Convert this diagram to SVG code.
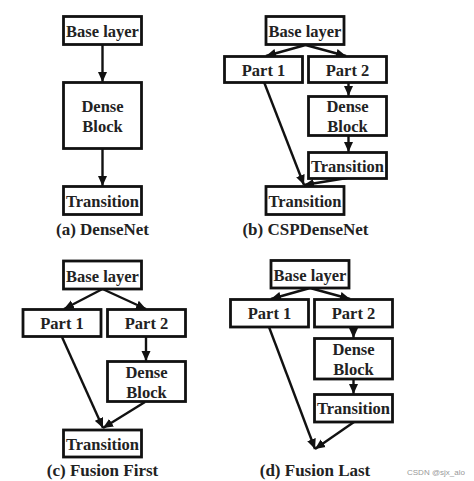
<svg xmlns="http://www.w3.org/2000/svg" width="474" height="481" viewBox="0 0 474 481">
<style>
.box{fill:#fff;stroke:#111;stroke-width:2.8}
.t{font-weight:bold;font-size:16.5px;fill:#222;text-anchor:middle}
.cap{font-weight:bold;font-size:17px;fill:#222;text-anchor:middle}
.e{fill:none;stroke:#111;stroke-width:2.4;marker-end:url(#ah)}
.wm{font-size:8px;fill:#999}
</style>
<defs>
<marker id="ah" markerUnits="userSpaceOnUse" markerWidth="10" markerHeight="10" viewBox="0 0 10 10" refX="10" refY="5" orient="auto">
<path d="M0,0.5 L10,5 L0,9.5 Z" fill="#111"/>
</marker>
</defs>
<rect width="474" height="481" fill="#fff"/>
<g id="connectors">
<line class="e" x1="102.5" y1="45" x2="102.5" y2="82"/>
<line class="e" x1="102.5" y1="149" x2="102.5" y2="186"/>
<line class="e" x1="305.5" y1="45" x2="266" y2="56"/>
<line class="e" x1="305.5" y1="45" x2="346" y2="56"/>
<line class="e" x1="348.5" y1="82" x2="348.5" y2="96"/>
<line class="e" x1="348.5" y1="136" x2="348.5" y2="152"/>
<line class="e" x1="264" y1="82" x2="304" y2="185"/>
<line class="e" x1="347" y1="178" x2="304" y2="185"/>
<line class="e" x1="102.5" y1="289" x2="64" y2="309"/>
<line class="e" x1="102.5" y1="289" x2="146" y2="309"/>
<line class="e" x1="146" y1="337" x2="146" y2="361"/>
<line class="e" x1="62" y1="337" x2="103" y2="428"/>
<line class="e" x1="145" y1="402" x2="103" y2="428"/>
<line class="e" x1="310" y1="288" x2="271" y2="299"/>
<line class="e" x1="310" y1="288" x2="350" y2="299"/>
<line class="e" x1="353.5" y1="327" x2="353.5" y2="338"/>
<line class="e" x1="353.5" y1="379" x2="353.5" y2="394"/>
<line class="e" x1="269" y1="327" x2="315" y2="449"/>
<line class="e" x1="354" y1="422" x2="315" y2="449"/>
</g>
<g font-family="Liberation Serif, Times New Roman, serif">
<g id="a-base"><rect class="box" x="63.5" y="16.5" width="78" height="28"/><text class="t" x="102.5" y="37">Base layer</text></g>
<g id="a-dense"><rect class="box" x="63.5" y="82.5" width="78" height="66"/><text class="t" x="102.5" y="112">Dense</text><text class="t" x="102.5" y="132">Block</text></g>
<g id="a-trans"><rect class="box" x="63.5" y="186.5" width="78" height="28"/><text class="t" x="102.5" y="207">Transition</text></g>
<text class="cap" x="102.5" y="235">(a) DenseNet</text>
<g id="b-base"><rect class="box" x="266" y="16.5" width="78" height="28"/><text class="t" x="305" y="37">Base layer</text></g>
<g id="b-part1"><rect class="box" x="224.5" y="56.5" width="78" height="26"/><text class="t" x="263.5" y="75.5">Part 1</text></g>
<g id="b-part2"><rect class="box" x="308.5" y="56.5" width="78" height="26"/><text class="t" x="347.5" y="75.5">Part 2</text></g>
<g id="b-dense"><rect class="box" x="308.5" y="96.5" width="78" height="39"/><text class="t" x="347.5" y="112">Dense</text><text class="t" x="347.5" y="132">Block</text></g>
<g id="b-trans1"><rect class="box" x="308.5" y="152.5" width="78" height="26"/><text class="t" x="347.5" y="171.5">Transition</text></g>
<g id="b-trans2"><rect class="box" x="266" y="186.5" width="78" height="28"/><text class="t" x="305" y="207">Transition</text></g>
<text class="cap" x="305.5" y="235">(b) CSPDenseNet</text>
<g id="c-base"><rect class="box" x="63.5" y="261" width="78" height="28"/><text class="t" x="102.5" y="281.5">Base layer</text></g>
<g id="c-part1"><rect class="box" x="23" y="309.5" width="78" height="27"/><text class="t" x="62" y="329">Part 1</text></g>
<g id="c-part2"><rect class="box" x="107.5" y="309.5" width="78" height="27"/><text class="t" x="146.5" y="329">Part 2</text></g>
<g id="c-dense"><rect class="box" x="107.5" y="361.5" width="78" height="40"/><text class="t" x="146.5" y="377.5">Dense</text><text class="t" x="146.5" y="397.5">Block</text></g>
<g id="c-trans"><rect class="box" x="63.5" y="430" width="78" height="27"/><text class="t" x="102.5" y="450">Transition</text></g>
<text class="cap" x="102.5" y="476">(c) Fusion First</text>
<g id="d-base"><rect class="box" x="271" y="260.5" width="78" height="27.5"/><text class="t" x="310" y="280.5">Base layer</text></g>
<g id="d-part1"><rect class="box" x="230.5" y="299.5" width="78" height="27.5"/><text class="t" x="269.5" y="319">Part 1</text></g>
<g id="d-part2"><rect class="box" x="314.5" y="299.5" width="78" height="27.5"/><text class="t" x="353.5" y="319">Part 2</text></g>
<g id="d-dense"><rect class="box" x="314.5" y="338.5" width="78" height="40.5"/><text class="t" x="353.5" y="355">Dense</text><text class="t" x="353.5" y="375">Block</text></g>
<g id="d-trans"><rect class="box" x="314.5" y="394.5" width="78" height="27.5"/><text class="t" x="353.5" y="414">Transition</text></g>
<text class="cap" x="315" y="476">(d) Fusion Last</text>
</g>
<text class="wm" x="407" y="475" font-family="Liberation Sans, Arial, sans-serif">CSDN @sjx_alo</text>
</svg>
